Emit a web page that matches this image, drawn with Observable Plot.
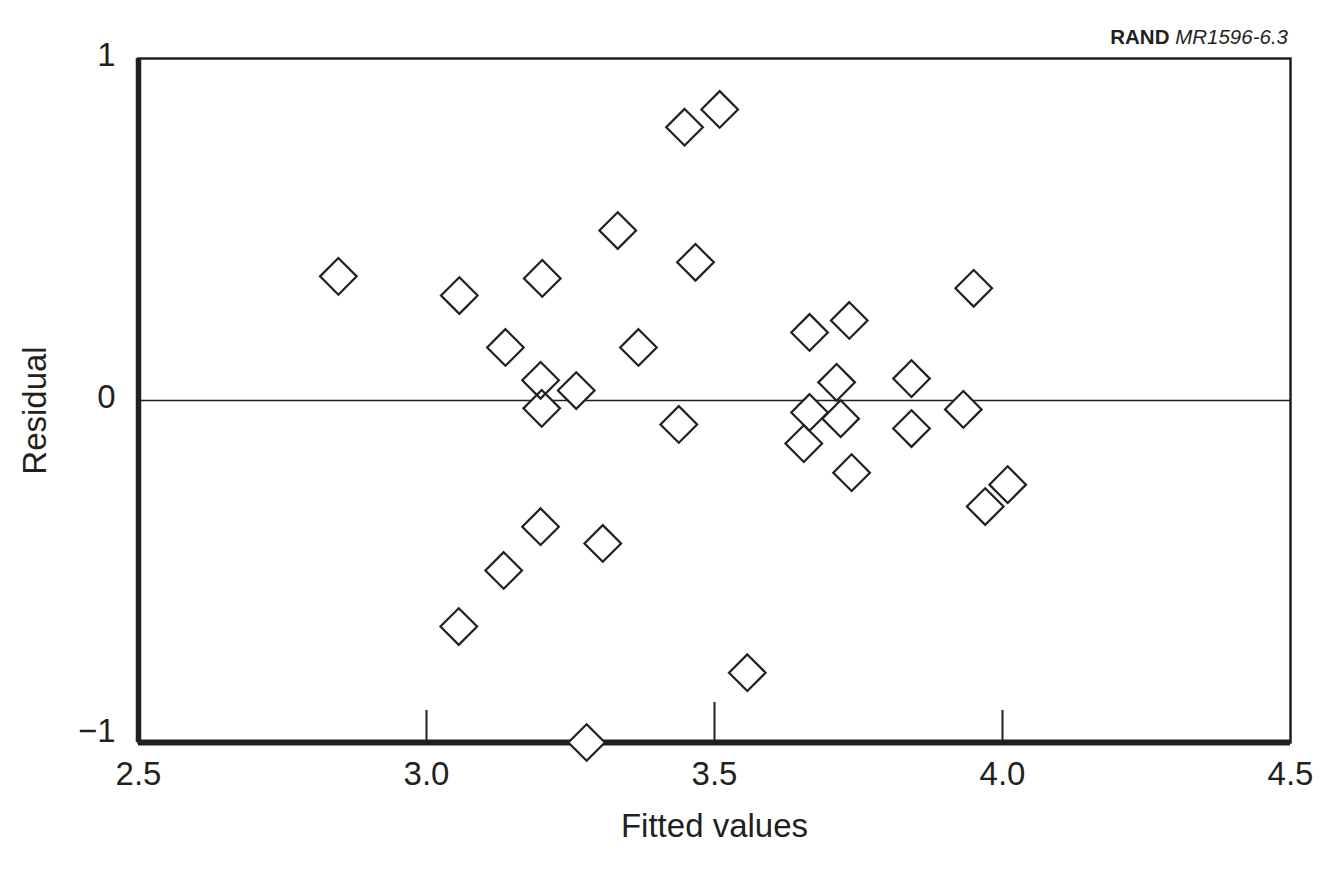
<!DOCTYPE html>
<html>
<head>
<meta charset="utf-8">
<script src="https://cdn.jsdelivr.net/npm/d3@7"></script>
<script src="https://cdn.jsdelivr.net/npm/@observablehq/plot@0.6"></script>
<style>
  html, body { margin: 0; padding: 0; background: #fff; }
  #wrap { position: relative; width: 1319px; height: 869px; font-family: "Liberation Sans", Arial, sans-serif; }
  #tag { position: absolute; right: 31px; top: 25px; font-size: 20.5px; color: #231f20; }
  #tag b { font-weight: bold; }
  #tag i { font-style: italic; }
</style>
</head>
<body>
<div id="wrap"><div id="tag"><b>RAND</b> <i>MR1596-6.3</i></div></div>
<script>
const fitted = [2.847, 3.057, 3.201, 3.137, 3.198, 3.200, 3.260, 3.332, 3.368, 3.448, 3.509, 3.467, 3.438,
                3.198, 3.306, 3.134, 3.056, 3.557, 3.278,
                3.665, 3.734, 3.665, 3.655, 3.712, 3.719, 3.738, 3.842, 3.842, 3.950, 3.932, 3.970, 4.009];
const residual = [0.363, 0.307, 0.357, 0.155, 0.059, -0.023, 0.029, 0.497, 0.155, 0.799, 0.851, 0.404, -0.070,
                  -0.369, -0.418, -0.497, -0.661, -0.796, -1.0,
                  0.199, 0.234, -0.035, -0.126, 0.053, -0.053, -0.211, 0.064, -0.082, 0.328, -0.026, -0.310, -0.246];
const xTickLabels = [2.5, 3.0, 3.5, 4.0, 4.5];
const xInnerTicks = [3.0, 4.0];
const xMidTick = [3.5];
const yTickLabels = [1, 0];
const yBottomLabel = [-1];
const xLabel = "Fitted values";
const yLabel = "Residual";

const points = fitted.map((f, i) => ({fitted: f, residual: residual[i]}));
const ink = "#231f20";

const chart = Plot.plot({
  width: 1319,
  height: 869,
  marginLeft: 138,
  marginRight: 29,
  marginTop: 58,
  marginBottom: 127,
  style: {fontFamily: "Liberation Sans, Arial, sans-serif", fontSize: "32px", color: ink, background: "#fff"},
  x: {domain: [2.5, 4.5]},
  y: {domain: [-1, 1]},
  marks: [
    Plot.frame({stroke: ink, strokeWidth: 2.5}),
    Plot.ruleY([0], {stroke: ink, strokeWidth: 1.6}),
    Plot.axisX({ticks: xInnerTicks, tickSize: -32, text: null, label: null, stroke: ink, strokeWidth: 2}),
    Plot.axisX({ticks: xMidTick, tickSize: -40, text: null, label: null, stroke: ink, strokeWidth: 2}),
    Plot.axisX({ticks: xTickLabels, tickSize: 0, tickPadding: 19, tickFormat: d3.format(".1f"), label: null, fill: ink, fontSize: 33}),
    Plot.axisY({ticks: yTickLabels, tickSize: 0, tickPadding: 23, tickFormat: d3.format("d"), label: null, fill: ink, dy: -3, fontSize: 33}),
    Plot.axisY({ticks: yBottomLabel, tickSize: 0, tickPadding: 23, tickFormat: d3.format("d"), label: null, fill: ink, dy: -11, fontSize: 33}),
    Plot.ruleX([2.5], {stroke: ink, strokeWidth: 5.5}),
    Plot.ruleY([-1], {stroke: ink, strokeWidth: 6}),
    Plot.dot(points, {x: "fitted", y: "residual", symbol: "diamond2", r: 16.5, fill: "#fff", stroke: "none"}),
    Plot.dot(points, {x: "fitted", y: "residual", symbol: "diamond2", r: 16.5, fill: "none", stroke: ink, strokeWidth: 2.2}),
    Plot.text([xLabel], {frameAnchor: "bottom", dy: 94, fill: ink, fontSize: 33}),
    Plot.text([yLabel], {frameAnchor: "left", textAnchor: "middle", rotate: -90, dx: -103, dy: 10, fill: ink, fontSize: 33})
  ]
});
document.getElementById("wrap").prepend(chart);
</script>
</body>
</html>
